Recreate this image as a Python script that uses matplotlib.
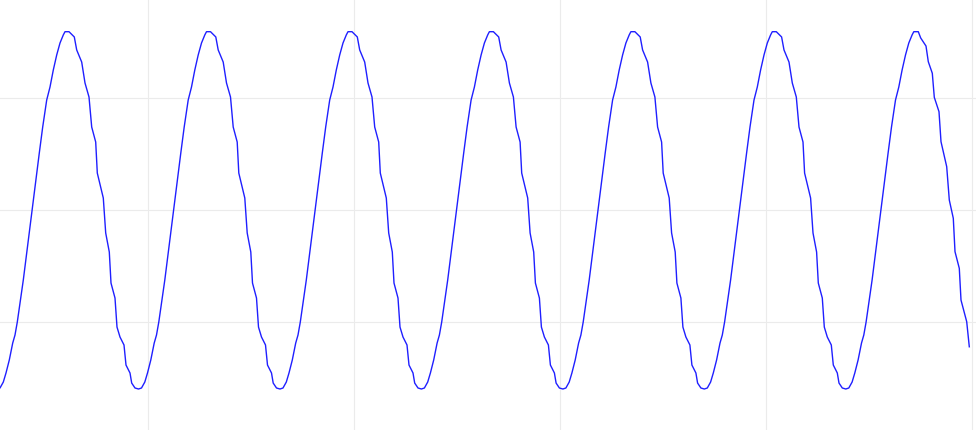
import numpy as np
import matplotlib
matplotlib.use("Agg")
import matplotlib.pyplot as plt

# centre (top) of each wave
peak_t = [6.70, 20.85, 35.00, 49.14, 63.29, 77.43, 91.58]

# one full wave read from the first period: offset from its peak, value
cycle_dt = [-7.00, -6.70, -6.37, -6.10, -5.77, -5.43, -5.20, -4.97, -4.70, -4.37,
            -4.03, -3.70, -3.37, -3.20, -2.77, -2.43, -2.03, -1.70, -1.37, -1.03,
            -0.70, -0.37, -0.20, 0.20, 0.73, 0.97, 1.47, 1.80, 2.20, 2.47,
            2.87, 3.03, 3.63, 3.87, 4.23, 4.40, 4.80, 5.00, 5.30, 5.70,
            5.90, 6.30, 6.47, 6.80]
cycle_v = [-1.598, -1.589, -1.536, -1.455, -1.339, -1.188, -1.116, -1.000, -0.830, -0.625,
           -0.384, -0.152, 0.089, 0.205, 0.509, 0.741, 0.982, 1.098, 1.250, 1.384,
           1.491, 1.563, 1.592, 1.592, 1.545, 1.429, 1.321, 1.134, 1.009, 0.741,
           0.607, 0.330, 0.107, -0.205, -0.375, -0.652, -0.786, -1.045, -1.134, -1.205,
           -1.384, -1.455, -1.545, -1.589]

# falling side of the last wave (cut off at the right edge)
last_dt = [0.25, 0.49, 1.02, 1.25, 1.65, 1.85, 2.32, 2.52, 3.09, 3.35,
           3.75, 3.92, 4.35, 4.52, 5.09, 5.35]
last_v = [1.592, 1.536, 1.464, 1.324, 1.221, 1.006, 0.878, 0.610, 0.387, 0.089,
          -0.074, -0.372, -0.521, -0.804, -0.997, -1.221]

xs, ys = [], []
for p in peak_t[:-1]:
    xs += [p + d for d in cycle_dt]
    ys += cycle_v
# last wave: rising half from the read cycle, falling half read separately
n_up = cycle_dt.index(0.20)
xs += [peak_t[-1] + d for d in cycle_dt[:n_up]]
ys += cycle_v[:n_up]
xs += [peak_t[-1] + d for d in last_dt]
ys += last_v

fig = plt.figure(figsize=(9.76, 4.30), dpi=100)
ax = fig.add_axes([0, 0, 1, 1])
ax.plot(xs, ys, color='#1f1fff', lw=1.0, zorder=3)

ax.set_xlim(0, 97.6)
ax.set_ylim(-1.964, 1.875)
ax.set_xticks([14.8, 35.4, 56.0, 76.6, 97.2])
ax.set_yticks([-1, 0, 1])
ax.grid(True, color='#ebebeb', lw=0.8)
ax.tick_params(length=0, labelbottom=False, labelleft=False)
for s in ax.spines.values():
    s.set_visible(False)

fig.savefig('out.png', dpi=100)
